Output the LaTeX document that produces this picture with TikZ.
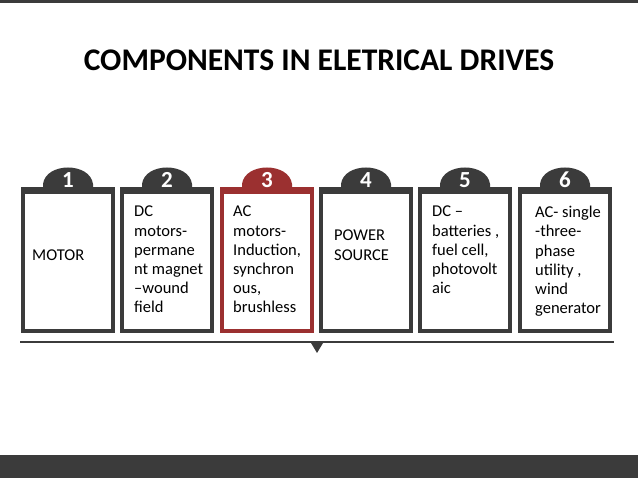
\documentclass[tikz,border=0pt]{standalone}
\usepackage{fontspec}
\setmainfont{Carlito}
\begin{document}
\begin{tikzpicture}[x=1pt,y=-1pt,
  txt/.style={anchor=north west,align=left,font=\fontsize{16.5}{19.2}\selectfont,inner sep=0pt,text=black},
  num/.style={font=\fontsize{23}{23}\selectfont\bfseries,text=white}]
\definecolor{dk}{HTML}{3B3B3B}
\definecolor{rd}{HTML}{9B3030}
\useasboundingbox (0,0) rectangle (638,478);
\fill[white] (0,0) rectangle (638,478);
\fill[dk] (0,0) rectangle (638,3);
\fill[dk] (0,455) rectangle (638,478);
\node[font=\fontsize{31.5}{32}\selectfont\bfseries] (title) at (319,60) {COMPONENTS IN ELETRICAL DRIVES};
\foreach \i/\x/\c in {1/21/dk,2/120/dk,3/220/rd,4/319/dk,5/418/dk,6/518/dk}{
  \fill[\c] (\x,187) rectangle (\x+94,333);
  \fill[white] (\x+4,194) rectangle (\x+90,329);
  \fill[\c] (\x+22,190) -- (\x+22,184) .. controls (\x+25,162) and (\x+69,162) .. (\x+72,184) -- (\x+72,190) -- cycle;
  \node[num] (n\i) at (\x+47,180) {\i};
}
\node[txt] (t1) at (32,250) {MOTOR};
\node[txt] (t2) at (134,206) {DC\\motors-\\permane\\nt magnet\\–wound\\field};
\node[txt] (t3) at (233,206) {AC\\motors-\\Induction,\\synchron\\ous,\\brushless};
\node[txt] (t4) at (334,230) {POWER\\SOURCE};
\node[txt] (t5) at (432,206) {DC –\\batteries ,\\fuel cell,\\photovolt\\aic};
\node[txt] (t6) at (535,206) {AC- single\\-three-\\phase\\utility ,\\wind\\generator};
\coordinate (la) at (20,342);
\coordinate (lb) at (614,342);
\draw[dk,line width=2.5pt] (la) -- (lb);
\fill[dk] (311,343) -- (323,343) -- (317,353) -- cycle;
\end{tikzpicture}
\end{document}
